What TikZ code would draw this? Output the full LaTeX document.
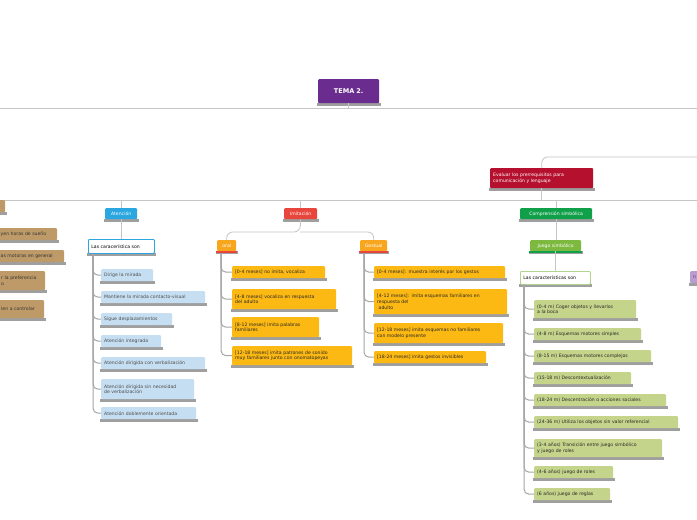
\documentclass[tikz,border=0pt]{standalone}
\usepackage{fontspec}
\setmainfont{DejaVu Sans}
\definecolor{cpur}{HTML}{6B2C8F}
\definecolor{ccrim}{HTML}{B5102E}
\definecolor{cbrown}{HTML}{BE9A68}
\definecolor{cblue}{HTML}{2AA7E1}
\definecolor{clblue}{HTML}{C6DEF1}
\definecolor{cred}{HTML}{E8463C}
\definecolor{corg}{HTML}{F8A61E}
\definecolor{cyel}{HTML}{FDB913}
\definecolor{cgreen}{HTML}{11A04A}
\definecolor{clgreen}{HTML}{7DB93F}
\definecolor{colive}{HTML}{C4D48B}
\definecolor{clilac}{HTML}{B99DD1}
\tikzset{
 base/.style={inner xsep=3pt,inner ysep=0pt,align=left,font=\fontsize{4.6}{5.6}\selectfont,rounded corners=1pt},
 shad/.style={fill=gray!75},
 conn/.style={draw=gray!45,line width=0.8pt},
 tconn/.style={draw=gray!70,line width=1pt,rounded corners=5pt},
 cpurs/.style={base,fill=cpur,text=white,font=\fontsize{6.5}{7}\selectfont\bfseries,align=center},
 ccrims/.style={base,fill=ccrim,text=white},
 cbrowns/.style={base,fill=cbrown,text=black!80},
 cblues/.style={base,fill=cblue,text=white,align=center},
 clblues/.style={base,fill=clblue,text=black!70},
 creds/.style={base,fill=cred,text=white,align=center},
 corgs/.style={base,fill=corg,text=white,align=center},
 cyels/.style={base,fill=cyel,text=black!85},
 cgreens/.style={base,fill=cgreen,text=white,align=center},
 clgreens/.style={base,fill=clgreen,text=white,align=center},
 colives/.style={base,fill=colive,text=black!85},
 clilacs/.style={base,fill=clilac,text=black!70},
 bwhite/.style={base,fill=white,draw=cblue,line width=0.8pt,text=black},
 gwhite/.style={base,fill=white,draw=clgreen!60,line width=0.8pt,text=black},
}
\newcommand\mynd[7]{%
 \pgfmathsetmacro\mW{#5-#3}\pgfmathsetmacro\mH{#6-#4}\pgfmathsetmacro\mT{#5-#3-6}%
 \fill[shad] (#3-1,#6) rectangle (#5+2,#6+2.5);
 \node[#2,anchor=north west,minimum width=\mW pt,minimum height=\mH pt,text width=\mT pt] (#1) at (#3,#4) {#7};}
\newcommand\redline[1]{\fill[cred] ([xshift=-1pt]#1.south west) rectangle ([xshift=1pt,yshift=-2pt]#1.south east);}
\begin{document}
\begin{tikzpicture}[x=1pt,y=-1pt]
\useasboundingbox (0,0) rectangle (697,520);
\fill[white] (0,0) rectangle (697,520);
% main lines
\coordinate (hA) at (0,108);
\coordinate (hAr) at (697,108);
\coordinate (hB) at (0,200);
\coordinate (hBr) at (697,200);
\coordinate (topR) at (697,157);
\draw[conn] (hA) -- (hAr);
\draw[conn] (hB) -- (hBr);
% nodes
\mynd{tema}{cpurs}{318}{79}{379}{103}{TEMA 2.}
\mynd{eval}{ccrims}{490}{168}{593}{188}{Evaluar los prerrequisitos para\\comunicación y lenguaje}
\draw[conn] (tema.south) -- (tema.south |- hA);
\draw[conn,rounded corners=6pt] (eval.north) |- (topR);
\draw[conn] (eval.south) -- (eval.south |- hB);
% left brown
\mynd{b0}{cbrowns}{-10}{200}{5}{212}{}
\mynd{b1}{cbrowns}{-20}{228}{57}{240}{\hspace*{17.5pt}yen horas de sueño}
\mynd{b2}{cbrowns}{-20}{250}{64}{262}{\hspace*{17.5pt}as motoras en general}
\mynd{b3}{cbrowns}{-20}{271}{45}{290}{\hspace*{18pt}r la preferencia\\\hspace*{18pt}o}
\mynd{b4}{cbrowns}{-20}{300}{44}{318}{\hspace*{18pt}len a controlar\\ }
% Atención
\mynd{aten}{cblues}{105}{208}{137}{219}{Atención}
\draw[conn] (aten.north) -- (aten.north |- hB);
\mynd{acar}{bwhite}{88}{239}{154}{253}{Las caracerística son}
\draw[conn] (aten.south) -- (aten.south |- acar.north);
\mynd{a1}{clblues}{101}{269}{153}{281}{Dirige la mirada}
\mynd{a2}{clblues}{101}{291}{205}{303}{Mantiene la mirada contacto-visual}
\mynd{a3}{clblues}{101}{313}{172}{325}{Sigue desplazamientos}
\mynd{a4}{clblues}{101}{335}{161}{347}{Atención integrada}
\mynd{a5}{clblues}{101}{357}{205}{369}{Atención dirigida con verbalización}
\mynd{a6}{clblues}{101}{379}{194}{399}{Atención dirigida sin necesidad\\de verbalización}
\mynd{a7}{clblues}{101}{407}{196}{419}{Atención doblemente orientada}
\foreach \i in {1,...,7}{\draw[tconn] ([xshift=5pt]acar.south west) |- (a\i.west);}
% Imitación
\mynd{imit}{creds}{284}{208}{317}{219}{Imitación}
\draw[conn] (imit.north) -- (imit.north |- hB);
\mynd{oral}{corgs}{217}{240}{236}{251}{oral}
\mynd{gest}{corgs}{360}{240}{387}{251}{Gestual}
\redline{oral}\redline{gest}
\coordinate (ij) at (300,232);
\draw[conn,rounded corners=6pt] (imit.south) -- (ij) -| (oral.north);
\draw[conn,rounded corners=6pt] (ij) -| (gest.north);
\mynd{o1}{cyels}{232}{266}{325}{278}{[0-4 meses] no imita, vocaliza}
\mynd{o2}{cyels}{232}{289}{336}{309}{[4-8 meses] vocaliza en respuesta\\del adulto}
\mynd{o3}{cyels}{232}{317}{319}{337}{[8-12 meses] imita palabras\\familiares}
\mynd{o4}{cyels}{232}{346}{352}{365}{[12-18 meses] imita patrones de sonido\\muy familiares junto con onomatopeyas}
\foreach \i in {1,...,4}{\draw[tconn] ([xshift=4pt,yshift=-2pt]oral.south west) |- (o\i.west);}
\mynd{g1}{cyels}{374}{266}{505}{278}{[0-4 meses]: muestra interés por los gestos}
\mynd{g2}{cyels}{374}{289}{507}{314}{[4-12 meses]: imita esquemas familiares en\\respuesta del\\\ adulto}
\mynd{g3}{cyels}{374}{323}{503}{343}{[12-18 meses] imita esquemas no familiares\\con modelo presente}
\mynd{g4}{cyels}{374}{351}{486}{363}{[18-24 meses] imita gestos invisibles}
\foreach \i in {1,...,4}{\draw[tconn] ([xshift=4pt,yshift=-2pt]gest.south west) |- (g\i.west);}
% Comprensión
\mynd{comp}{cgreens}{520}{208}{592}{219}{Comprensión simbólica}
\draw[conn] (comp.north) -- (comp.north |- hB);
\mynd{juego}{clgreens}{530}{240}{581}{251}{Juego simbólico}
\fill[cgreen] ([xshift=-1pt]juego.south west) rectangle ([xshift=1pt,yshift=-2pt]juego.south east);
\draw[conn] (comp.south) -- (comp.south |- juego.north);
\mynd{jcar}{gwhite}{520}{271}{590}{284}{Las características son}
\draw[conn] (juego.south) -- (juego.south |- jcar.north);
\mynd{j1}{colives}{534}{300}{636}{318}{(0-4 m) Coger objetos y llevarlos\\a la boca}
\mynd{j2}{colives}{534}{328}{641}{340}{(4-8 m) Esquemas motores simples}
\mynd{j3}{colives}{534}{350}{651}{362}{(8-15 m) Esquemas motores complejos}
\mynd{j4}{colives}{534}{372}{631}{384}{(15-18 m) Descontextualización}
\mynd{j5}{colives}{534}{394}{666}{406}{(18-24 m) Descentración o acciones sociales}
\mynd{j6}{colives}{534}{416}{678}{428}{(24-36 m) Utiliza los objetos sin valor referencial}
\mynd{j7}{colives}{534}{439}{662}{457}{(3-4 años) Transición entre juego simbólico\\y juego de roles}
\mynd{j8}{colives}{534}{466}{613}{478}{(4-6 años) juego de roles}
\mynd{j9}{colives}{534}{488}{610}{500}{(6 años) juego de reglas}
\foreach \i in {1,...,9}{\draw[tconn] ([xshift=4pt]jcar.south west) |- (j\i.west);}
% right partial
\mynd{lil}{clilacs}{690}{271}{720}{283}{n}
\end{tikzpicture}
\end{document}
